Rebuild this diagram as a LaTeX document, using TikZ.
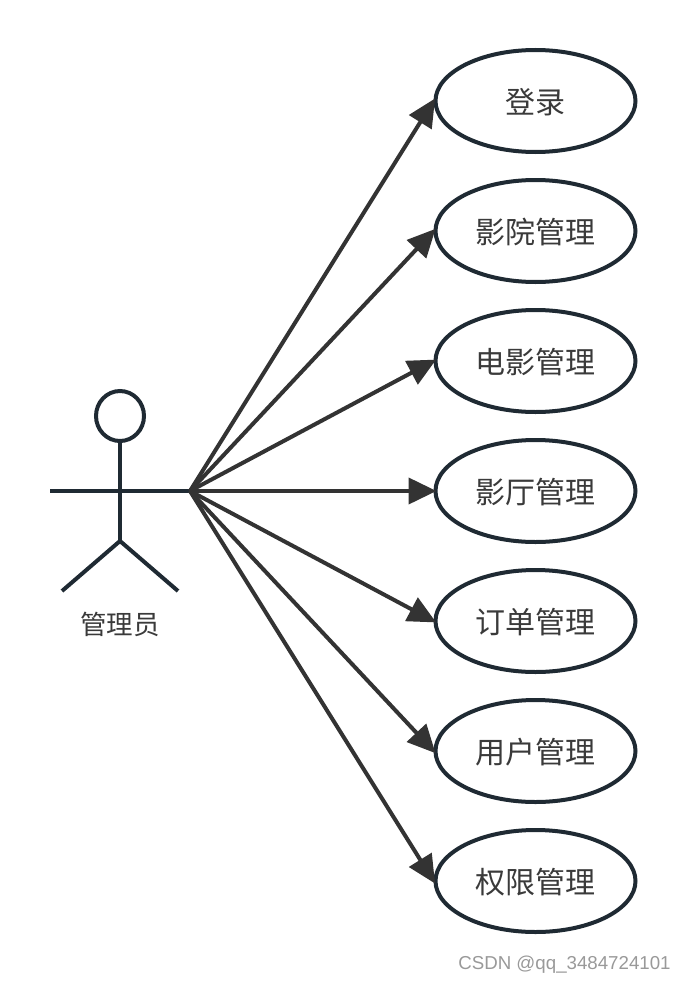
\documentclass[tikz,border=0pt]{standalone}
\usepackage{fontspec}
\setmainfont{Liberation Sans}
\newfontfamily\cjk{Noto Sans CJK SC}[Scale=1]
\usetikzlibrary{arrows.meta,shapes.geometric}
\definecolor{edgeink}{HTML}{1F2A33}
\definecolor{arrowink}{HTML}{333333}
\definecolor{textink}{HTML}{3A3A3A}
\tikzset{
  usecase/.style={ellipse,draw=edgeink,line width=4pt,minimum width=200pt,minimum height=102pt,inner sep=0pt,text=textink,text height=26pt,text depth=0.4pt,font=\cjk\fontsize{30}{34}\selectfont},
  limb/.style={draw=edgeink,line width=4pt},
  link/.style={draw=arrowink,line width=4pt,-{Triangle[length=28pt,width=26pt]},shorten >=-3pt}
}
\begin{document}
\begin{tikzpicture}[x=1pt,y=-1pt]
\useasboundingbox (0,0) rectangle (685,982);
\node[usecase] (u1) at (535.5,101) {登录};
\node[usecase] (u2) at (535.5,231) {影院管理};
\node[usecase] (u3) at (535.5,361) {电影管理};
\node[usecase] (u4) at (535.5,491) {影厅管理};
\node[usecase] (u5) at (535.5,621) {订单管理};
\node[usecase] (u6) at (535.5,751) {用户管理};
\node[usecase] (u7) at (535.5,881) {权限管理};
% actor
\node[ellipse,draw=edgeink,line width=4pt,minimum width=48pt,minimum height=50pt,inner sep=0pt] (head) at (120,416) {};
\coordinate (hip) at (120,541);
\coordinate (handl) at (50,491);
\coordinate (handr) at (190,491);
\coordinate (footl) at (62,591);
\coordinate (footr) at (178,591);
\draw[limb] (head.south) -- (hip);
\draw[limb] (handl) -- (handr);
\draw[limb] (footl) -- (hip) -- (footr);
\node[text=textink,font=\cjk\fontsize{26.5}{30}\selectfont] (actor) at (120,624) {管理员};
\foreach \i in {1,...,7}{
  \draw[link] (handr) -- (u\i.west);
}
\node[text=black!40,font=\fontsize{18.7}{22}\selectfont] (mark) at (564.5,964.5) {CSDN @qq\_3484724101};
\end{tikzpicture}
\end{document}
